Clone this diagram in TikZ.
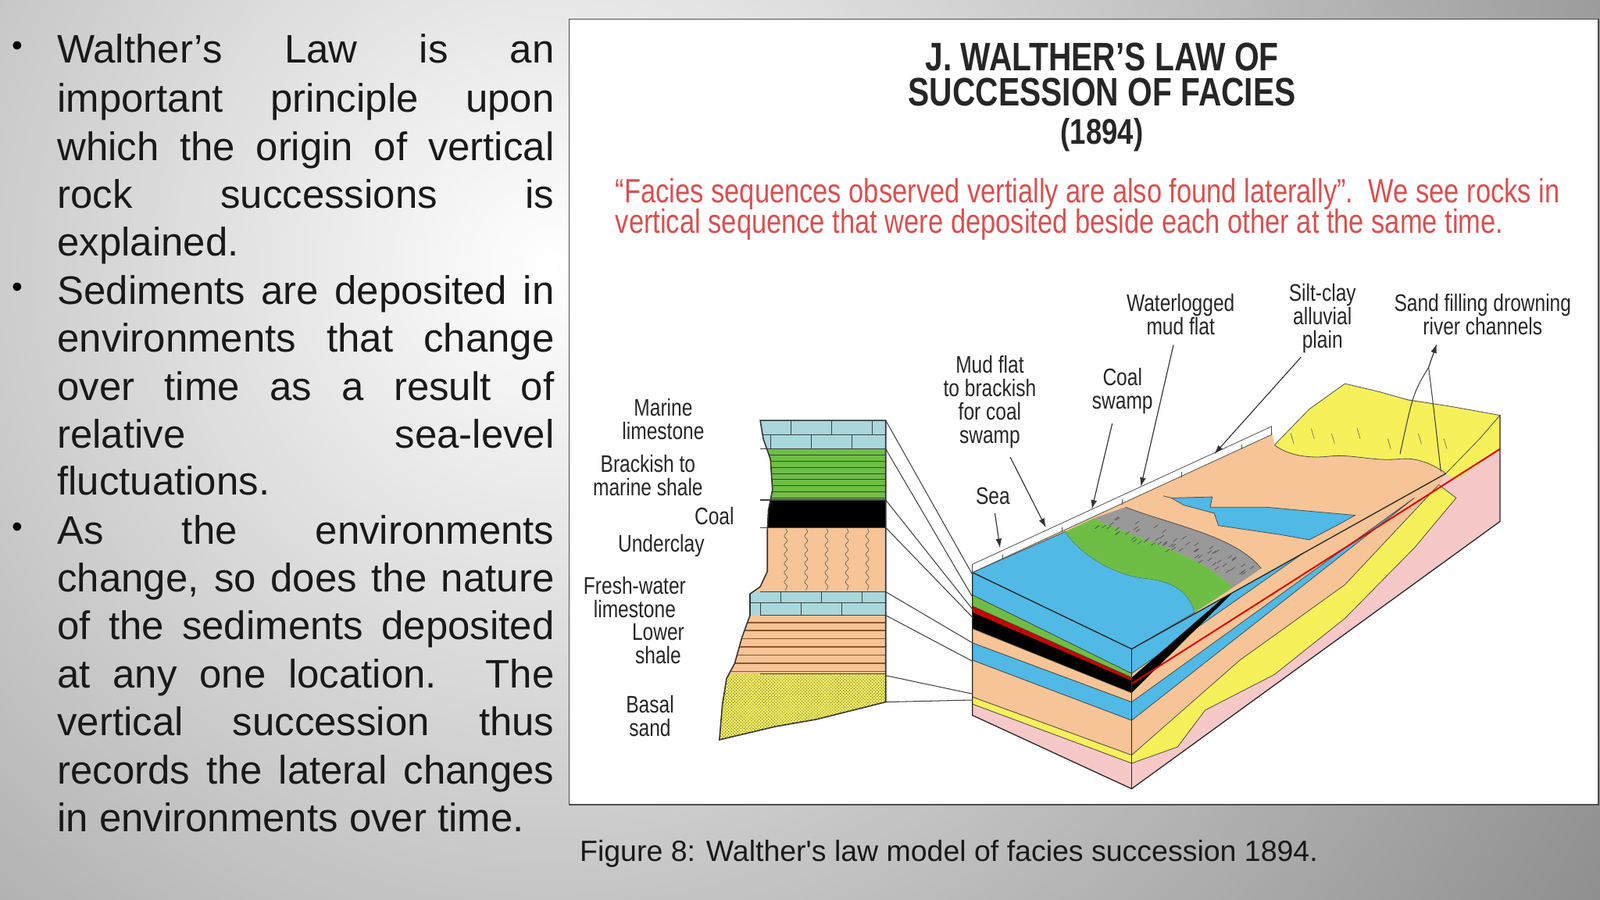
\documentclass[tikz,border=0pt]{standalone}
\usepackage{fontspec}
\setmainfont{Liberation Sans}
\newfontfamily\cond[FakeStretch=0.8]{Liberation Sans}
\usetikzlibrary{patterns,decorations.pathmorphing,arrows.meta,calc}
\definecolor{tanc}{RGB}{246,196,150}
\definecolor{seab}{RGB}{80,185,230}
\definecolor{pinkc}{RGB}{246,200,200}
\definecolor{yelc}{RGB}{246,240,90}
\definecolor{limeb}{RGB}{170,215,220}
\definecolor{shaleg}{RGB}{110,190,70}
\definecolor{redq}{RGB}{215,80,80}
\begin{document}
\begin{tikzpicture}[x=1pt,y=-1pt,
  lbl/.style={font=\cond\fontsize{23.5}{23}\selectfont,align=center,inner sep=0pt,text=black!85},
  ln/.style={line width=0.8pt,black!75},
  arr/.style={line width=0.9pt,black!80,-{Latex[length=9pt,width=6pt]}},
  ttl/.style={anchor=base,inner sep=0pt,text height=28pt,text depth=0pt,text=black!85},
  bodytxt/.style={anchor=base west,inner sep=0pt,font=\fontsize{39}{40}\selectfont,text=black!90}]
\useasboundingbox (0,0) rectangle (1568,882);
\begin{scope}
\clip (0,0) rectangle (1568,882);
\shade[inner color=white,outer color=black!55] (540,260) circle (1500);
\end{scope}
% panel
\node[draw=black!70,fill=white,line width=1pt,minimum width=1009pt,minimum height=770pt,anchor=north west,inner sep=0pt] (panel) at (557,18) {};
% left text
\foreach \y in {48,284,519}{\node[anchor=west,inner sep=0pt,font=\fontsize{30}{30}\selectfont] at (12,\y) {•};}
\def\J#1{\makebox[487pt][s]{#1}}
\node[bodytxt] (t1) at (56,62) {\J{Walther’s Law is an}};
\node[bodytxt] (t2) at (56,110) {\J{important principle upon}};
\node[bodytxt] (t3) at (56,157) {\J{which the origin of vertical}};
\node[bodytxt] (t4) at (56,204) {\J{rock successions is}};
\node[bodytxt] (t5) at (56,251) {explained.};
\node[bodytxt] (t6) at (56,298) {\J{Sediments are deposited in}};
\node[bodytxt] (t7) at (56,345) {\J{environments that change}};
\node[bodytxt] (t8) at (56,392) {\J{over time as a result of}};
\node[bodytxt] (t9) at (56,439) {\J{relative sea-level}};
\node[bodytxt] (t10) at (56,485) {fluctuations.};
\node[bodytxt] (t11) at (56,533) {\J{As the environments}};
\node[bodytxt] (t12) at (56,580) {\J{change, so does the nature}};
\node[bodytxt] (t13) at (56,627) {\J{of the sediments deposited}};
\node[bodytxt] (t14) at (56,674) {\J{at any one location. The}};
\node[bodytxt] (t15) at (56,721) {\J{vertical succession thus}};
\node[bodytxt] (t16) at (56,768) {\J{records the lateral changes}};
\node[bodytxt] (t17) at (56,815) {in environments over time.};
% caption
\node[anchor=west,inner sep=0pt,font=\fontsize{28.7}{29}\selectfont,text=black!90] (cap) at (568,837) {Figure 8: Walther\textquotesingle s law model of facies succession 1894.};
% title
\node[ttl,font=\cond\bfseries\fontsize{39}{39}\selectfont] (title1) at (1080,69) {J. WALTHER’S LAW OF};
\node[ttl,font=\cond\bfseries\fontsize{39}{39}\selectfont] (title2) at (1080,104) {SUCCESSION OF FACIES};
\node[ttl,font=\cond\bfseries\fontsize{35}{35}\selectfont] (year) at (1080,141) {(1894)};
\node[anchor=west,inner sep=0pt,font=\cond\fontsize{33}{31}\selectfont,text=redq] (q1) at (603,190) {“Facies sequences observed vertially are also found laterally”.\ \ We see rocks in};
\node[anchor=west,inner sep=0pt,font=\cond\fontsize{33}{31}\selectfont,text=redq] (q2) at (603,220) {vertical sequence that were deposited beside each other at the same time.};
% ===== column =====
\def\colpath{(745,412) -- (868,412) -- (868,688) -- (840,695) -- (800,705) -- (760,712) -- (705,725) -- (708,690) -- (712,665) -- (720,650) -- (727,625) -- (735,603) -- (735,582) -- (745,575) -- (752,560) -- (752,520) -- (753,500) -- (757,480) -- (755,450) -- (748,430) -- cycle}
\begin{scope}
\clip \colpath;
\fill[limeb] (700,412) rectangle (870,440);
\draw[ln] (700,426) -- (870,426);
\foreach \x in {775,815,855}{\draw[ln] (\x,412) -- (\x,426);}
\foreach \x in {755,795,835}{\draw[ln] (\x,426) -- (\x,440);}
\fill[shaleg] (700,440) rectangle (870,490);
\foreach \y in {446,452,...,488}{\draw[ln] (700,\y) -- (870,\y);}
\fill[black] (700,490) rectangle (870,517);
\fill[tanc] (700,517) rectangle (870,580);
\foreach \x in {770,790,810,830,850}{\draw[black!70,decorate,decoration={snake,amplitude=1.5pt,segment length=9pt}] (\x,518) -- (\x,579);}
\fill[limeb] (700,580) rectangle (870,603);
\draw[ln] (700,591) -- (870,591);
\foreach \x in {765,805,845}{\draw[ln] (\x,580) -- (\x,591);}
\foreach \x in {745,785,825}{\draw[ln] (\x,591) -- (\x,603);}
\fill[tanc] (700,603) rectangle (870,660);
\foreach \y in {610,618,...,658}{\draw[brown!70!black,line width=1.2pt] (700,\y) -- (870,\y);}
\fill[yelc] (700,660) rectangle (870,730);
\fill[pattern=crosshatch dots,pattern color=black!70] (700,660) rectangle (870,730);
\end{scope}
\foreach \y in {412,440,490,517,580,603,660}{\draw[ln] (745,\y) -- (868,\y);}
\draw[line width=1.2pt,black!80] \colpath;
% column labels
\node[lbl] (lml) at (650,411) {Marine\\limestone};
\node[lbl] (lbs) at (635,466) {Brackish to\\marine shale};
\node[lbl] (lco) at (700,506) {Coal};
\node[lbl] (lun) at (648,535) {Underclay};
\node[lbl] (lfw) at (622,585) {Fresh-water\\limestone};
\node[lbl] (lls) at (645,631) {Lower\\shale};
\node[lbl] (lbsd) at (637,702) {Basal\\sand};
% ===== block =====
% right face
\fill[pinkc] (1109,636) -- (1417,464) -- (1470,407) -- (1470,511) -- (1109,773) -- cycle;
\fill[tanc] (1109,636) -- (1417,464) -- (1410,475) -- (1318,573) -- (1215,647) -- (1109,740) -- cycle;
\fill[yelc] (1417,464) -- (1470,407) -- (1470,440) -- (1427,470) -- cycle;
\fill[yelc,draw=black!70,line width=0.6pt] (1109,740) -- (1215,647) -- (1318,573) -- (1410,475) -- (1427,488) -- (1386,537) -- (1318,606) -- (1249,661) -- (1181,696) -- (1154,732) -- (1109,748) -- cycle;
\fill[seab,draw=black!70,line width=0.6pt] (1109,688) -- (1386,488) -- (1109,706) -- cycle;
\fill[seab,draw=black!70,line width=0.6pt] (1109,636) -- (1283,538) -- (1109,660) -- cycle;
\fill[black] (1109,664) -- (1232,557) -- (1109,679) -- cycle;
\draw[red!85!black,line width=1.5pt] (1109,670) -- (1470,440);
% front face
\fill[seab] (953,561) -- (1109,636) -- (1109,660) -- (953,583) -- cycle;
\fill[shaleg] (953,583) -- (1109,660) -- (1109,664) -- (953,594) -- cycle;
\fill[red!80!black] (953,594) -- (1109,664) -- (1109,667) -- (953,600) -- cycle;
\fill[black] (953,600) -- (1109,667) -- (1109,679) -- (953,616) -- cycle;
\fill[tanc] (953,616) -- (1109,679) -- (1109,688) -- (953,630) -- cycle;
\fill[seab] (953,630) -- (1109,688) -- (1109,706) -- (953,647) -- cycle;
\fill[tanc] (953,647) -- (1109,706) -- (1109,740) -- (953,683) -- cycle;
\fill[yelc] (953,683) -- (1109,740) -- (1109,748) -- (953,690) -- cycle;
\fill[pinkc] (953,690) -- (1109,748) -- (1109,773) -- (953,701) -- cycle;
\foreach \a/\b in {583/660,594/664,616/679,630/688,647/706,683/740,690/748}{\draw[black!75,line width=0.6pt] (953,\a) -- (1109,\b);}
% top surface
\fill[tanc] (953,561) -- (953,553) -- (1246,420) -- (1249,436) -- (1318,380) -- (1470,407) -- (1417,464) -- (1109,636) -- cycle;
\fill[seab,draw=black!70,line width=0.6pt] (953,561) -- (1044,521) .. controls (1060,545) and (1095,565) .. (1125,567) .. controls (1150,570) and (1165,580) .. (1171,600) -- (1109,636) -- cycle;
\fill[shaleg] (1044,521) -- (1072,508) .. controls (1120,530) and (1180,545) .. (1208,576) -- (1171,600) .. controls (1165,580) and (1150,570) .. (1125,567) .. controls (1095,565) and (1060,545) .. (1044,521);
\fill[black!40] (1072,508) -- (1103,497) .. controls (1150,515) and (1210,525) .. (1236,557) -- (1208,576) .. controls (1180,545) and (1120,530) .. (1072,508);
\foreach \i in {0,...,60}{\pgfmathsetmacro\px{1075+\i*2.5+rand*8}\pgfmathsetmacro\py{510+\i*0.83+rand*10}\draw[black!70,line width=0.5pt] (\px,\py) -- ++(4,-3);}
\draw[black!70,line width=0.6pt] (1103,497) .. controls (1150,515) and (1210,525) .. (1236,557);
\fill[seab,draw=black!70,line width=0.6pt] (1148,488) -- (1188,487) -- (1186,497) -- (1240,497) -- (1328,505) -- (1310,515) -- (1283,529) -- (1255,524) -- (1194,515) -- (1190,503) -- (1160,495) -- cycle;
\draw[black!70,line width=0.6pt] (1140,486) -- (1148,488);
% hills
\fill[yelc,draw=black!70,line width=0.6pt] (1249,436) -- (1283,401) -- (1318,376) -- (1352,384) -- (1380,392) -- (1420,398) -- (1470,407) -- (1450,430) -- (1417,464) .. controls (1400,452) and (1385,448) .. (1369,450) .. controls (1345,452) and (1325,445) .. (1304,447) .. controls (1280,450) and (1260,445) .. (1249,436);
\foreach \x/\y in {1265/425,1285/420,1305/425,1330/420,1360/430,1390/425,1415/430}{\draw[black!60,line width=0.5pt] (\x,\y) -- ++(3,10);}
% outlines
\draw[line width=1pt,black!85] (953,553) -- (953,701) -- (1109,773) -- (1470,511) -- (1470,407);
\draw[line width=1pt,black!85] (953,561) -- (1109,636) -- (1417,464);
\draw[line width=1pt,black!85] (1109,636) -- (1109,773);
% ruler bar
\fill[white,draw=black!70,line width=0.6pt] (953,553) -- (1246,418) -- (1246,426) -- (953,561) -- cycle;
\foreach \t in {0.1,0.3,0.5,0.7,0.9}{\draw[black!70,line width=0.5pt] ($(953,557)!\t!(1246,422)$) -- ++(0,5);}
% leader lines
\foreach \a/\b in {412/563,440/585,490/597,517/605,580/630,603/648,662/680,688/686}{\draw[ln] (868,\a) -- (953,\b);}
% block labels
\node[lbl] (lsea) at (973,486) {Sea};
\draw[arr] (975,503) -- (980,537);
\node[lbl] (lmud) at (970,394) {Mud flat\\to brackish\\for coal\\swamp};
\draw[arr] (990,448) -- (1025,517);
\node[lbl] (lcs) at (1100,383) {Coal\\swamp};
\draw[arr] (1090,415) -- (1070,499);
\node[lbl] (lwl) at (1157,308) {Waterlogged\\mud flat};
\draw[arr] (1150,338) -- (1118,477);
\node[lbl] (lsc) at (1296,312) {Silt-clay\\alluvial\\plain};
\draw[arr] (1275,350) -- (1190,445);
\node[lbl] (lsf) at (1453,308) {Sand filling drowning\\river channels};
\draw[arr] (1400,360) -- (1408,337);
\draw[ln] (1400,360) .. controls (1385,385) .. (1372,445);
\draw[ln] (1400,360) .. controls (1405,400) .. (1412,462);
\end{tikzpicture}
\end{document}
